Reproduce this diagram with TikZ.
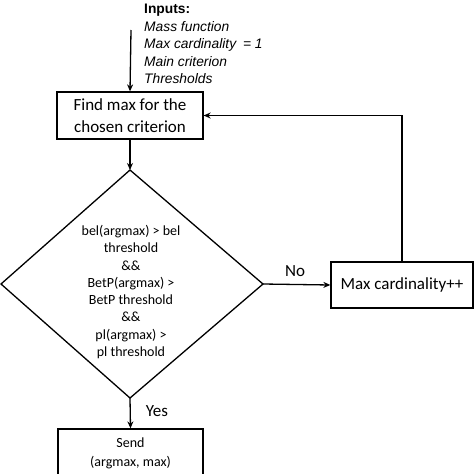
\documentclass[tikz,border=0pt]{standalone}
\usepackage{fontspec}
\setmainfont{Carlito}
\newfontfamily\arialfont{Liberation Sans}
\usetikzlibrary{arrows.meta}
\tikzset{
  box/.style={draw, line width=1.3pt, fill=white, align=center, inner sep=0pt},
  flow/.style={line width=1.3pt, -{Stealth[length=7pt,width=6pt]}},
  bigtxt/.style={font=\fontsize{17}{22}\selectfont},
  midtxt/.style={font=\fontsize{14}{17.3}\selectfont},
  smalltxt/.style={font=\fontsize{14}{19}\selectfont}
}
\begin{document}
\begin{tikzpicture}[x=1pt,y=-1pt]
\useasboundingbox (0,0) rectangle (474,474);
\fill[white] (0,0) rectangle (474,474);
\clip (0,0) rectangle (474,474);

% inputs text
\node[anchor=north west, inner sep=0pt, align=left, font=\arialfont\fontsize{13.8}{17.5}\selectfont] (inputs) at (144,4)
  {\textbf{Inputs:}\\ \textit{Mass function}\\ \textit{Max cardinality\hspace{3pt} = 1}\\ \textit{Main criterion}\\ \textit{Thresholds}};
\coordinate (intop) at (131,30);

% boxes
\node[box, bigtxt, minimum width=146pt, minimum height=47pt] (find) at (130,115.5) {Find max for the\\chosen criterion};
\node[box, bigtxt, minimum width=142pt, minimum height=46pt] (card) at (402,285) {Max cardinality++};
\node[box, smalltxt, minimum width=145pt, minimum height=48pt] (send) at (130.5,453) {Send\\(argmax, max)};

% decision diamond
\coordinate (dt) at (130,170);
\coordinate (dl) at (1,284);
\coordinate (dr) at (263,284);
\coordinate (db) at (130,398);
\draw[line width=1.3pt, line join=miter] (dt) -- (dr) -- (db) -- (dl) -- cycle;
\node[midtxt, align=center, inner sep=0pt] (cond) at (131,292)
  {bel(argmax) {>} bel\\threshold\\\&\&\\BetP(argmax) {>}\\BetP threshold\\\&\&\\pl(argmax) {>}\\pl threshold};

% connectors
\draw[flow] (intop) -- (find.north);
\draw[flow] (find.south) -- (dt);
\draw[flow] (dr) -- (card.west);
\draw[flow] (db) -- (send.north);
\draw[flow] (card.north) |- (find.east);

% labels
\node[bigtxt, inner sep=0pt] (nolab) at (295,271) {No};
\node[bigtxt, inner sep=0pt] (yeslab) at (157,411) {Yes};
\end{tikzpicture}
\end{document}
